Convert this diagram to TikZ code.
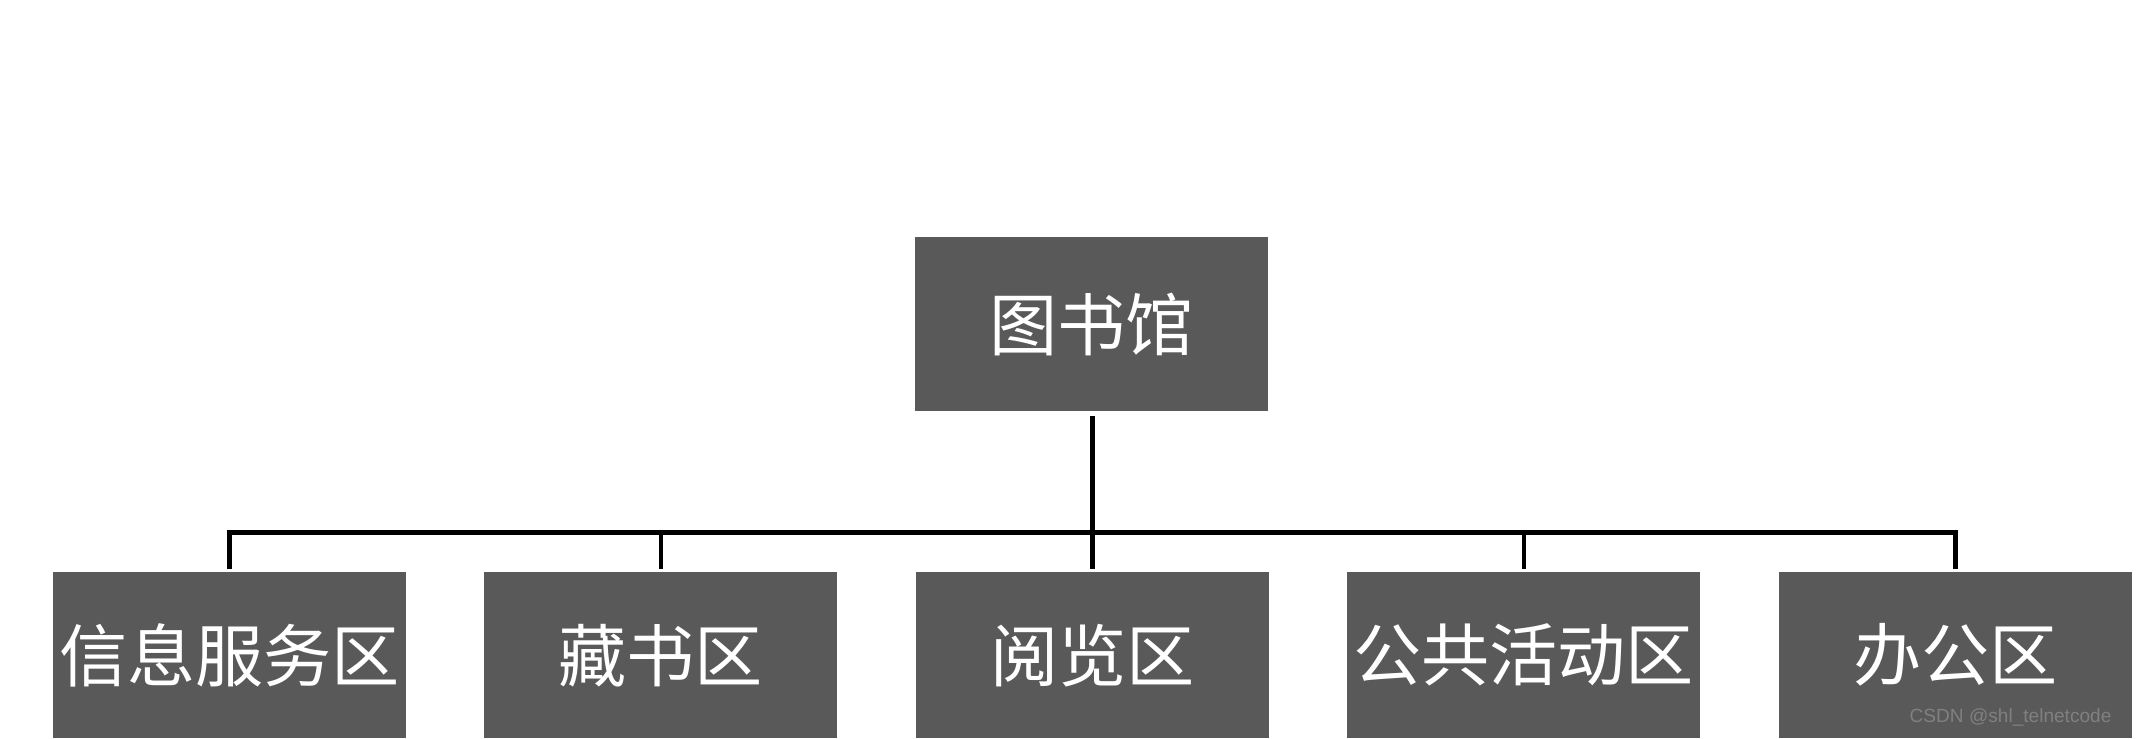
\documentclass[tikz,border=0pt]{standalone}
\usepackage{fontspec}
\setmainfont{Liberation Sans}
\newfontfamily\cjk{Noto Sans CJK SC}
\definecolor{boxgray}{HTML}{595959}
\tikzset{
  box/.style={fill=boxgray, draw=none, minimum width=129.5pt, minimum height=64pt, inner sep=0pt, text=white, font=\cjk\fontsize{25}{28}\selectfont},
  bbox/.style={box, minimum height=61pt},
  conn/.style={line width=1.6pt, black}
}
\begin{document}
\begin{tikzpicture}[x=0.5pt,y=-0.5pt]
\useasboundingbox (0,0) rectangle (1568,542);
\node[box] (root) at (801.5,238) {图书馆};
\node[bbox] (a) at (168.5,481) {信息服务区};
\node[bbox] (b) at (485,481) {藏书区};
\node[bbox] (c) at (802,481) {阅览区};
\node[bbox] (d) at (1118.5,481) {公共活动区};
\node[bbox] (e) at (1435.5,481) {办公区};
\coordinate (j) at (802,391);
\draw[conn] ([xshift=0.25pt]root.south) ++(0,3) -- (j);
\foreach \n in {a,b,c,d,e}{
  \draw[conn] (\n.north) ++(0,-2) |- (j);
}
\node[anchor=east, text=gray, font=\fontsize{7}{8}\selectfont] (wm) at (1557,527) {CSDN @shl\_telnetcode};
\end{tikzpicture}
\end{document}
